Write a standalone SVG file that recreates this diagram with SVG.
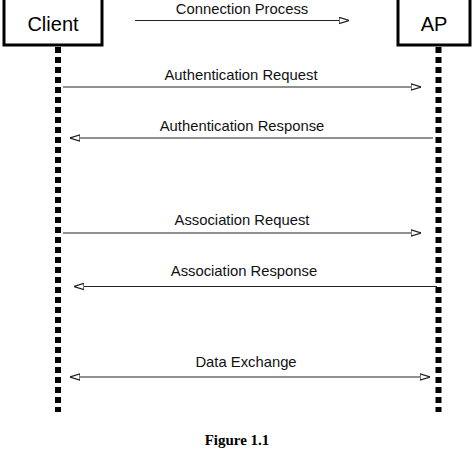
<svg xmlns="http://www.w3.org/2000/svg" width="474" height="458" viewBox="0 0 474 458">
<defs>
<style>
.box{fill:#fff;stroke:#000;stroke-width:3}
.lbl{font-family:"Liberation Sans",Arial,sans-serif;font-size:20px;fill:#000}
.msg{font-family:"Liberation Sans",Arial,sans-serif;font-size:14.8px;fill:#111}
.life{stroke:#000;stroke-width:6;stroke-dasharray:6 4}
.arr{stroke:#222;stroke-width:1.2;fill:none}
.cap{font-family:"Liberation Serif","Times New Roman",serif;font-size:15px;font-weight:bold;fill:#000}
</style>
<marker id="ah" viewBox="0 0 10 8" refX="10" refY="4" markerWidth="10" markerHeight="8" markerUnits="userSpaceOnUse" orient="auto-start-reverse">
<path d="M0,0.8 L10,4 L0,7.2 Z" fill="#fff" stroke="#222" stroke-width="1.2"/>
</marker>
</defs>
<rect width="474" height="458" fill="#fff"/>
<g id="lifelines">
<line class="life" x1="58" y1="47" x2="58" y2="412"/>
<line class="life" x1="438.5" y1="47" x2="438.5" y2="412"/>
</g>
<g id="client">
<rect class="box" x="4" y="-3" width="98" height="48"/>
<text class="lbl" x="53" y="31" text-anchor="middle">Client</text>
</g>
<g id="ap">
<rect class="box" x="398" y="-3" width="72" height="48"/>
<text class="lbl" x="434" y="31" text-anchor="middle">AP</text>
</g>
<g id="connectors">
<line class="arr" x1="135" y1="20.5" x2="349" y2="20.5" marker-end="url(#ah)"/>
<line class="arr" x1="63" y1="87" x2="421" y2="87" marker-end="url(#ah)"/>
<line class="arr" x1="433" y1="138" x2="70" y2="138" marker-end="url(#ah)"/>
<line class="arr" x1="63" y1="233" x2="421" y2="233" marker-end="url(#ah)"/>
<line class="arr" x1="437" y1="286.5" x2="74" y2="286.5" marker-end="url(#ah)"/>
<line class="arr" x1="70" y1="377" x2="430" y2="377" marker-start="url(#ah)" marker-end="url(#ah)"/>
</g>
<g id="labels">
<text class="msg" x="242" y="14" text-anchor="middle">Connection Process</text>
<text class="msg" x="241" y="80" text-anchor="middle">Authentication Request</text>
<text class="msg" x="242" y="131" text-anchor="middle">Authentication Response</text>
<text class="msg" x="242" y="225" text-anchor="middle">Association Request</text>
<text class="msg" x="244" y="276" text-anchor="middle">Association Response</text>
<text class="msg" x="246" y="367" text-anchor="middle">Data Exchange</text>
</g>
<text class="cap" x="237" y="445" text-anchor="middle">Figure 1.1</text>
</svg>
